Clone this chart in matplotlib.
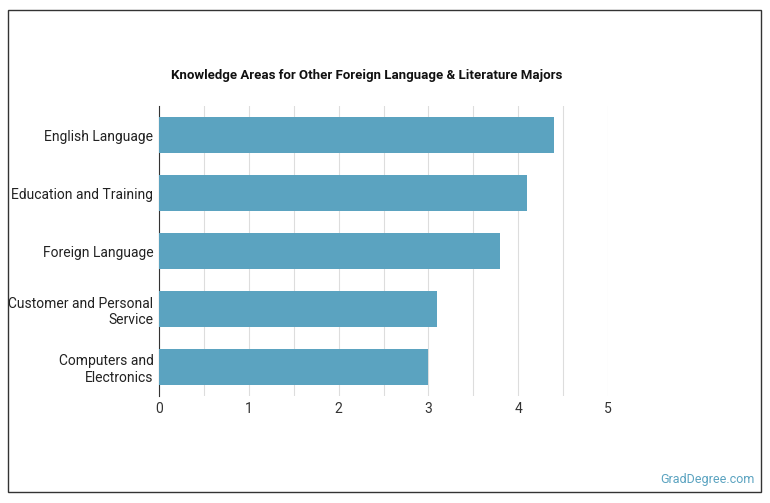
import matplotlib.pyplot as plt
from matplotlib.patches import Rectangle

categories = ['English Language', 'Education and Training', 'Foreign Language',
              'Customer and Personal\nService', 'Computers and\nElectronics']
values = [4.4, 4.1, 3.8, 3.1, 3.0]
ticks = [0, 1, 2, 3, 4, 5]

plt.rcParams['font.family'] = ['Roboto', 'DejaVu Sans']

fig = plt.figure(figsize=(7.7, 5.03), dpi=100)
fig.patches.append(Rectangle((8/770, 11/503), 753/770, 482/503, transform=fig.transFigure,
                             fill=False, edgecolor='#333333', linewidth=1))
ax = fig.add_axes([159/770, 1-396/503, 449/770, 290/503])

y = list(range(len(categories)))[::-1]
ax.barh(y, values, height=0.62, color='#5ba3c0', zorder=3)
ax.set_xlim(0, 5)
ax.set_ylim(-0.5, len(categories) - 0.5)
ax.set_yticks(y)
ax.set_yticklabels(categories, fontsize=10, color='#222222')
ax.set_xticks(ticks)
ax.set_xticks([t + 0.5 for t in ticks[:-1]], minor=True)
ax.set_xticklabels([str(t) for t in ticks], fontsize=10, color='#333333')
ax.grid(axis='x', which='both', color='#dddddd', linewidth=0.8, zorder=0)
ax.tick_params(axis='both', which='both', length=0, pad=4)
for s in ['top', 'right', 'bottom']:
    ax.spines[s].set_visible(False)
ax.spines['left'].set_color('#333333')

fig.text(367/770, 1-75/503, 'Knowledge Areas for Other Foreign Language & Literature Majors',
         ha='center', va='center', fontsize=9.5, fontweight='bold', color='#111111')
fig.text(755/770, 1-480/503, 'GradDegree.com', ha='right', va='center',
         fontsize=9, color='#5ba3c0')

fig.savefig('out.png', dpi=100)
